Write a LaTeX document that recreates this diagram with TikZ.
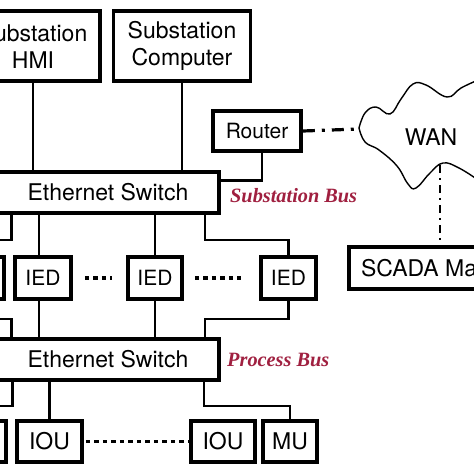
\documentclass[tikz,border=0pt]{standalone}
\usepackage{fontspec}
\setmainfont{TeX Gyre Heros}
\newfontfamily\redfont{Liberation Serif}
\usetikzlibrary{calc}
\definecolor{busred}{RGB}{160,32,64}
\begin{document}
\begin{tikzpicture}[x=1pt,y=-1pt,
  box/.style={draw,line width=3.6pt,inner sep=0pt,align=center,font=\fontsize{23}{27}\selectfont},
  smallbox/.style={box,font=\fontsize{21}{25}\selectfont},
  wire/.style={line width=2.6pt},
  dotline/.style={line width=4.2pt,dash pattern=on 4.2pt off 4.3pt},
  dashdot/.style={line width=3.2pt,dash pattern=on 12pt off 7pt on 3pt off 7pt},
  thindashdot/.style={line width=2.2pt,dash pattern=on 8pt off 5pt on 2pt off 5pt},
  buslabel/.style={anchor=base west,text=busred,font=\redfont\bfseries\itshape\fontsize{20.3}{24}\selectfont,inner sep=0pt},
  cloudline/.style={line width=1.4pt}]
\useasboundingbox (0,0) rectangle (474,474);
\clip (0,0) rectangle (474,474);
\fill[white] (0,0) rectangle (474,474);

% top level
\node[box,minimum width=134pt,minimum height=70pt] (hmi) at (33,46) {Substation\\HMI};
\node[box,minimum width=137pt,minimum height=70pt] (comp) at (182,46) {Substation\\Computer};
\node[smallbox,minimum width=88pt,minimum height=40pt] (router) at (257,131) {Router};
\node[box,minimum width=222pt,minimum height=41pt] (sw1) at (108,192.5) {Ethernet Switch};
\node[buslabel] (sbus) at (230,202) {Substation Bus};

% IEDs
\node[smallbox,minimum width=56pt,minimum height=42pt] (iedL) at (-24,278) {};
\node[smallbox,minimum width=56pt,minimum height=42pt] (ied1) at (43,278) {IED};
\node[smallbox,minimum width=54pt,minimum height=42pt] (ied2) at (155,278) {IED};
\node[smallbox,minimum width=55pt,minimum height=42pt] (ied3) at (288.5,278) {IED};

% process level
\node[box,minimum width=222pt,minimum height=41pt] (sw2) at (108,359.5) {Ethernet Switch};
\node[buslabel] (pbus) at (227,366) {Process Bus};
\node[box,minimum width=65pt,minimum height=41pt] (iouL) at (-26.5,441.5) {};
\node[box,minimum width=65pt,minimum height=41pt] (iou1) at (49.5,441.5) {IOU};
\node[box,minimum width=64pt,minimum height=41pt] (iou2) at (223,441.5) {IOU};
\node[box,minimum width=54pt,minimum height=41pt] (mu) at (290,441.5) {MU};

% WAN cloud
\draw[cloudline] plot[smooth,tension=0.7] coordinates {(359,128) (365,113) (376,107) (390,114) (401,99) (413,84) (426,85) (447,97) (461,88) (478,80)};
\draw[cloudline] plot[smooth,tension=0.7] coordinates {(359,128) (365,142) (379,150) (397,166) (408,184) (416,188) (430,173) (443,163) (459,168) (478,180)};
\coordinate (wanL) at (359,129);
\coordinate (wanB) at (440,165);
\node[font=\fontsize{23}{27}\selectfont] (wan) at (431,137) {WAN};

% SCADA
\node[box,minimum width=178pt,minimum height=42pt] (scada) at (438,268) {SCADA Master};

% connectors, station bus
\draw[wire] (hmi.south) -- (hmi.south |- sw1.north);
\draw[wire] (comp.south) -- (comp.south |- sw1.north);
\draw[wire] ([xshift=5pt]router.south) |- ([yshift=12pt]sw1.east);
\draw[dashdot] (router.east) -- (wanL);
\draw[thindashdot] (wanB) -- (wanB |- scada.north);

\draw[wire] ($(sw1.south west)+(16,0)$) -- ++(0,25) -| (iedL.north);
\draw[wire] ([xshift=-4pt]ied1.north) -- ([xshift=-4pt]ied1.north |- sw1.south);
\draw[wire] (ied2.north) -- (ied2.north |- sw1.south);
\draw[wire] ($(sw1.south east)+(-16,0)$) -- ++(0,25) -| (ied3.north);

\draw[wire] (iedL.south) -- ++(0,18) -| ($(sw2.north west)+(16,0)$);
\draw[wire] ([xshift=-4pt]ied1.south) -- ([xshift=-4pt]ied1.south |- sw2.north);
\draw[wire] (ied2.south) -- (ied2.south |- sw2.north);
\draw[wire] (ied3.south) -- ++(0,18) -| ($(sw2.north east)+(-16,0)$);

\draw[dotline,shorten <=12pt,shorten >=14pt] (ied1.east) -- (ied2.west);
\draw[dotline,shorten <=11pt,shorten >=18pt] (ied2.east) -- (ied3.west);

% process bus
\draw[wire] ($(sw2.south west)+(17,0)$) -- ++(0,24) -| (iouL.north);
\draw[wire] (iou1.north) -- (iou1.north |- sw2.south);
\draw[wire] ($(sw2.south east)+(-17,0)$) -- ++(0,24) -| (mu.north);
\draw[dotline,line width=3.8pt,shorten <=2pt,shorten >=1pt] (iou1.east) -- (iou2.west);
\end{tikzpicture}
\end{document}
